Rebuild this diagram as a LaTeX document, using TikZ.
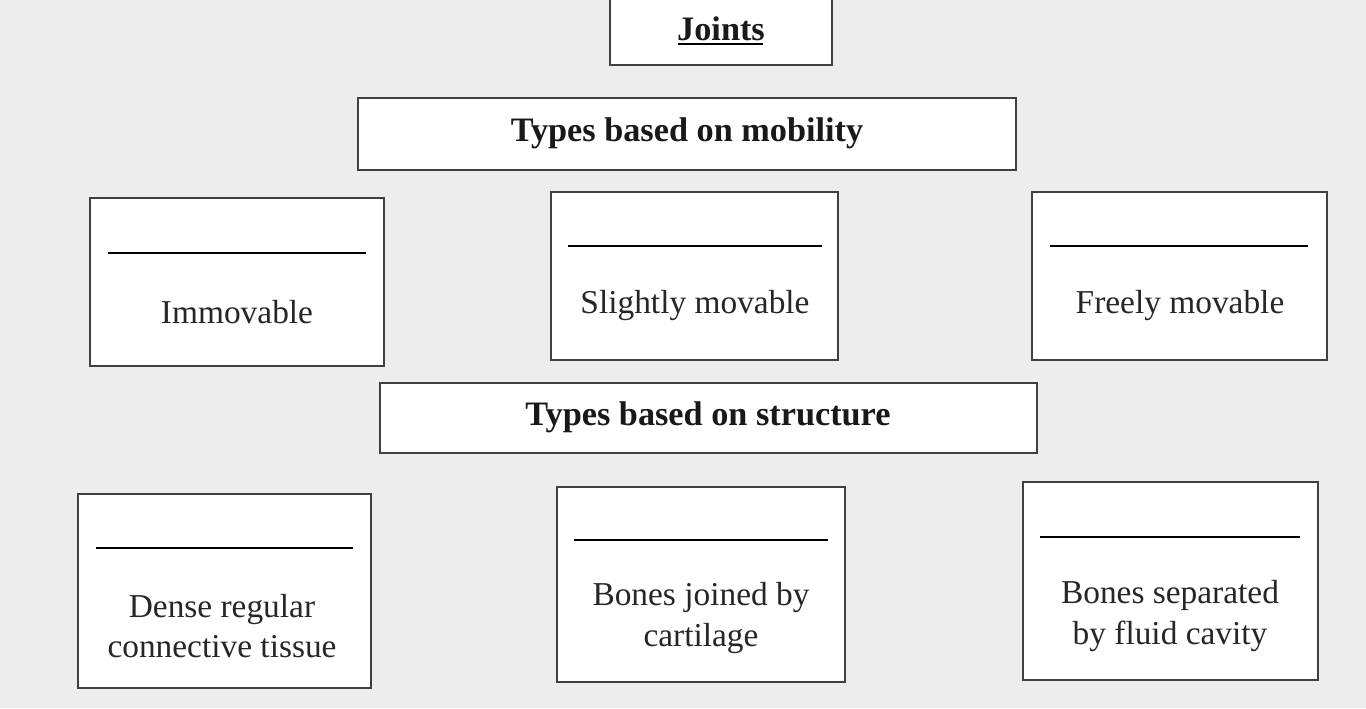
\documentclass[tikz,border=0pt]{standalone}
\usepackage{fontspec}
\setmainfont{Liberation Serif}
\begin{document}
\begin{tikzpicture}[x=0.02cm,y=-0.02cm,
  box/.style={draw=black!75,line width=1.6pt,fill=white},
  blank/.style={draw=black,line width=1.1pt},
  lbl/.style={font=\fontsize{19}{23}\selectfont,align=center,text=black!85},
  head/.style={font=\fontsize{19.5}{23}\selectfont\bfseries,text=black!90}]
\fill[black!7] (0,0) rectangle (1366,708);
\useasboundingbox (0,0) rectangle (1366,708);
% Joints
\draw[box] (610,-6) rectangle (832,65);
\node[head] (joints) at (721,29) {Joints};
\draw[line width=1.3pt] (678,44) -- (763,44);
% headings
\draw[box] (358,98) rectangle (1016,170);
\node[head] (mob) at (687,133) {Types based on mobility};
\draw[box] (380,383) rectangle (1037,453);
\node[head] (str) at (708,417) {Types based on structure};
% mobility boxes
\draw[box] (90,198) rectangle (384,366);
\draw[blank] (108,253) -- (366,253);
\node[lbl] (imm) at (237,312) {Immovable};
\draw[box] (551,192) rectangle (838,360);
\draw[blank] (568,246) -- (822,246);
\node[lbl] (sli) at (695,306) {Slightly movable};
\draw[box] (1032,192) rectangle (1327,360);
\draw[blank] (1050,246) -- (1308,246);
\node[lbl] (fre) at (1180,306) {Freely movable};
% structure boxes
\draw[box] (78,494) rectangle (371,688);
\draw[blank] (96,548) -- (353,548);
\node[lbl] (den) at (222,626) {Dense regular\\connective tissue};
\draw[box] (557,487) rectangle (845,682);
\draw[blank] (574,540) -- (828,540);
\node[lbl] (car) at (701,618) {Bones joined by\\cartilage};
\draw[box] (1023,482) rectangle (1318,680);
\draw[blank] (1040,537) -- (1300,537);
\node[lbl] (flu) at (1170,616) {Bones separated\\by fluid cavity};
\end{tikzpicture}
\end{document}
